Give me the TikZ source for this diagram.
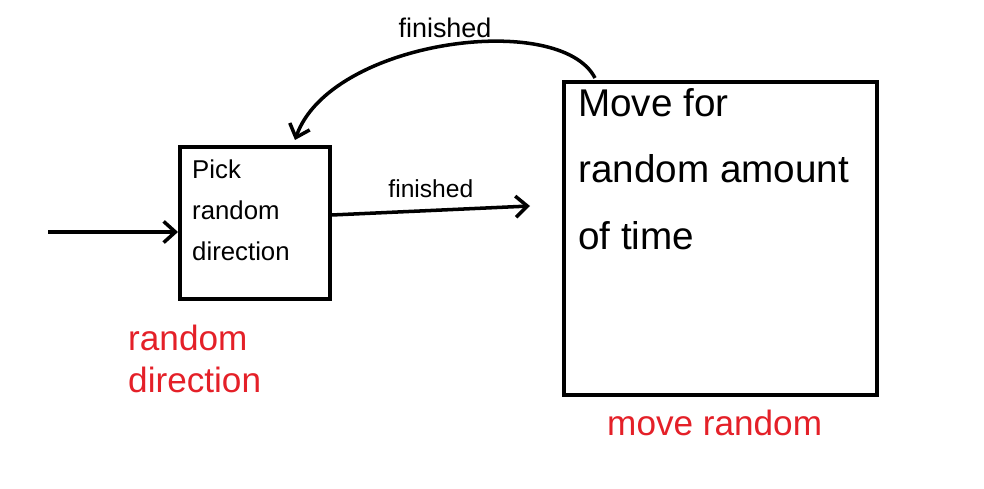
\documentclass[tikz,border=0pt]{standalone}
\usepackage{fontspec}
\setmainfont{Liberation Sans}
\usetikzlibrary{arrows.meta}
\definecolor{hred}{RGB}{228,32,40}
\tikzset{
  stepbox/.style={draw,line width=3.2pt},
  conn/.style={line width=3pt,-{Straight Barb[length=10pt,width=18pt,line width=3pt]}},
  txt/.style={anchor=north west,align=left,inner sep=0pt}
}
\begin{document}
\begin{tikzpicture}[x=0.03cm,y=-0.03cm]
\useasboundingbox (0,0) rectangle (984,489);
\node[stepbox,minimum width=150*0.03cm,minimum height=152*0.03cm,anchor=north west,inner sep=0pt] (pick) at (178,145) {};
\node[stepbox,minimum width=313*0.03cm,minimum height=313*0.03cm,anchor=north west,inner sep=0pt] (move) at (562,80) {};
\node[txt,font=\fontsize{22}{35}\selectfont] (pt) at (192,160) {Pick\\random\\direction};
\node[txt,font=\fontsize{33}{57}\selectfont] (mt) at (578,88) {Move for\\random amount\\of time};
\coordinate (in) at (48,232);
\draw[conn] (in) -- (pick.west |- in);
\coordinate (e1) at (530,206);
\draw[conn] (pick.east |- 0,215) -- (e1) node[midway,above=6pt,font=\fontsize{21}{22}\selectfont] (f1) {finished};
\draw[conn] (595,78) .. controls (560,10) and (330,40) .. (295,140);
\node[font=\fontsize{23}{24}\selectfont] (f2) at (445,28) {finished};
\node[txt,text=hred,font=\fontsize{30}{36}\selectfont] (rd) at (128,325) {random\\direction};
\node[txt,text=hred,font=\fontsize{30}{30}\selectfont] (mr) at (607,410) {move random};
\end{tikzpicture}
\end{document}
